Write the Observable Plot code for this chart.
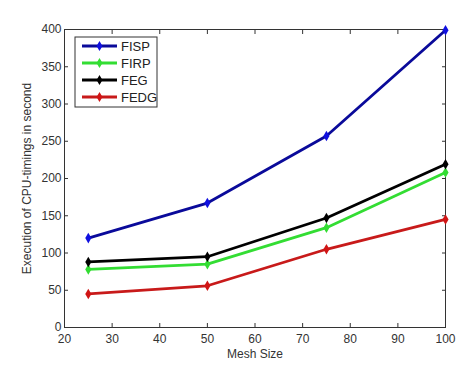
<!DOCTYPE html>
<html><head><meta charset="utf-8">
<script src="https://cdn.jsdelivr.net/npm/d3@7"></script>
<script src="https://cdn.jsdelivr.net/npm/@observablehq/plot@0.6"></script>
<style>
body{margin:0;background:#fff;}
#c{position:relative;width:474px;height:367px;}
</style></head>
<body><div id="c"></div>
<script>
const meshSizes = [25, 50, 75, 100];
const seriesNames = ["FISP", "FIRP", "FEG", "FEDG"];
const FISP = [120, 167, 257, 399];
const FIRP = [78, 85, 134, 208];
const FEG = [88, 95, 147, 219];
const FEDG = [45, 56, 105, 145];
const xTicks = [20, 30, 40, 50, 60, 70, 80, 90, 100];
const yTicks = [0, 50, 100, 150, 200, 250, 300, 350, 400];
const lineColors = {FISP: "#0a0a9a", FIRP: "#33dd33", FEG: "#000000", FEDG: "#c81a1a"};
const markColors = {FISP: "#1010e0", FIRP: "#33dd33", FEG: "#000000", FEDG: "#d01515"};

const vals = {FISP, FIRP, FEG, FEDG};
const data = seriesNames.flatMap(s => meshSizes.map((m, i) => ({series: s, x: m, y: vals[s][i]})));

const font = "'Liberation Sans', Arial, sans-serif";
const plot = Plot.plot({
  width: 474, height: 367,
  marginLeft: 64, marginRight: 29, marginTop: 29, marginBottom: 40,
  style: {fontFamily: font, fontSize: "12px", color: "#333", background: "#fff"},
  x: {domain: [20, 100]},
  y: {domain: [0, 400]},
  marks: [
    Plot.frame({stroke: "#333"}),
    Plot.axisX(xTicks, {anchor: "bottom", tickSize: -4, tickPadding: 11, label: "Mesh Size", labelAnchor: "center", labelArrow: "none", labelOffset: 30, fill: "#333", stroke: "#333"}),
    Plot.axisX(xTicks, {anchor: "top", tickSize: -4, tickFormat: () => "", label: null, stroke: "#333"}),
    Plot.axisY(yTicks, {anchor: "left", tickSize: -4, tickPadding: 7, label: "Execution of CPU-timings in second", labelAnchor: "center", labelArrow: "none", labelOffset: 42, fill: "#333", stroke: "#333"}),
    Plot.axisY(yTicks, {anchor: "right", tickSize: -4, tickFormat: () => "", label: null, stroke: "#333"}),
    ...seriesNames.map(s => Plot.line(data.filter(d => d.series === s), {x: "x", y: "y", stroke: lineColors[s], strokeWidth: 2.8})),
    ...seriesNames.map(s => Plot.dot(data.filter(d => d.series === s), {x: "x", y: "y", fill: markColors[s], r: 3.2, symbol: "diamond"}))
  ]
});
document.getElementById("c").appendChild(plot);

// legend
const svg = d3.select(plot);
const lg = svg.append("g").attr("font-family", font).attr("font-size", "13px").attr("text-anchor", "start");
const lx = 75, ly = 37, lw = 82, lh = 70;
lg.append("rect").attr("x", lx).attr("y", ly).attr("width", lw).attr("height", lh).attr("fill", "#fff").attr("stroke", "#333").attr("stroke-width", 1);
seriesNames.forEach((s, i) => {
  const yy = ly + 9 + i * 17;
  lg.append("line").attr("x1", lx + 7).attr("x2", lx + 42).attr("y1", yy).attr("y2", yy).attr("stroke", lineColors[s]).attr("stroke-width", 2.8);
  lg.append("path").attr("d", d3.symbol(d3.symbolDiamond, 30)()).attr("transform", `translate(${lx + 24.5},${yy})`).attr("fill", markColors[s]);
  lg.append("text").attr("x", lx + 46).attr("y", yy).attr("dy", "0.35em").attr("fill", "#222").text(s);
});
</script></body></html>
